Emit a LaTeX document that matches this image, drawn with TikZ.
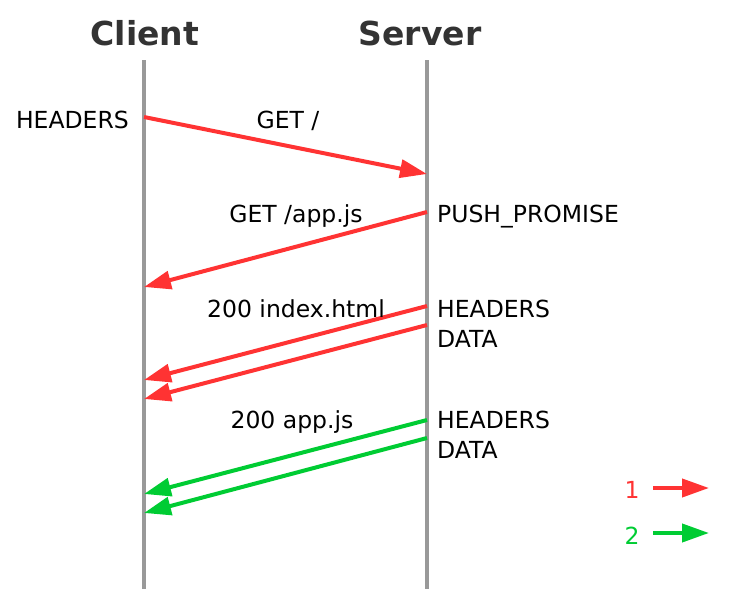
\documentclass[tikz,border=0pt]{standalone}
\usepackage{fontspec}
\setmainfont{DejaVu Sans}
\usetikzlibrary{arrows.meta}
\definecolor{msgred}{HTML}{FF3333}
\definecolor{msggreen}{HTML}{00CC33}
\definecolor{lifegray}{HTML}{999999}
\definecolor{titlegray}{HTML}{333333}
\begin{document}
\begin{tikzpicture}[x=1pt,y=-1pt,
  lifeline/.style={draw=lifegray,line width=4pt},
  msg/.style={line width=4pt,-{Triangle[length=27pt,width=18pt]}},
  red msg/.style={msg,draw=msgred,fill=msgred},
  green msg/.style={msg,draw=msggreen,fill=msggreen},
  title/.style={font=\fontsize{33}{39}\selectfont\bfseries,text=titlegray,anchor=base,inner sep=0pt},
  lbl/.style={font=\fontsize{23.5}{28}\selectfont,inner sep=0pt}]
\useasboundingbox (0,0) rectangle (734,608);
% lifelines
\coordinate (ctop) at (144,60);
\coordinate (cbot) at (144,589);
\coordinate (stop) at (427,60);
\coordinate (sbot) at (427,589);
\draw[lifeline] (ctop) -- (cbot);
\draw[lifeline] (stop) -- (sbot);
% titles
\node[title] (client) at (145,45) {Client};
\node[title] (server) at (420,45) {Server};
% message endpoints
\coordinate (c1) at (144,117);
\coordinate (s1) at (427,174);
\coordinate (s2) at (427,212);
\coordinate (c2) at (144,287);
\coordinate (s3) at (427,306);
\coordinate (c3) at (144,380);
\coordinate (s4) at (427,325);
\coordinate (c4) at (144,399);
\coordinate (s5) at (427,420);
\coordinate (c5) at (144,494);
\coordinate (s6) at (427,438);
\coordinate (c6) at (144,513);
\draw[red msg] (c1) -- (s1);
\draw[red msg] (s2) -- (c2);
\draw[red msg] (s3) -- (c3);
\draw[red msg] (s4) -- (c4);
\draw[green msg] (s5) -- (c5);
\draw[green msg] (s6) -- (c6);
% labels
\node[lbl,anchor=base east] (hdr0) at (129,128) {HEADERS};
\node[lbl,anchor=base] (get) at (288,128) {GET /};
\node[lbl,anchor=base] (getapp) at (296,222) {GET /app.js};
\node[lbl,anchor=base west] (push) at (437,222) {PUSH\_PROMISE};
\node[lbl,anchor=base] (idx) at (296,317) {200 index.html};
\node[lbl,anchor=base west] (hdr1) at (437,317) {HEADERS};
\node[lbl,anchor=base west] (data1) at (437,347) {DATA};
\node[lbl,anchor=base] (appjs) at (292,428) {200 app.js};
\node[lbl,anchor=base west] (hdr2) at (437,428) {HEADERS};
\node[lbl,anchor=base west] (data2) at (437,458) {DATA};
% legend
\node[lbl,anchor=base,text=msgred] (leg1) at (632,498) {1};
\node[lbl,anchor=base,text=msggreen] (leg2) at (632,544) {2};
\coordinate (l1a) at (653,488);
\coordinate (l1b) at (709,488);
\coordinate (l2a) at (653,533);
\coordinate (l2b) at (709,533);
\draw[red msg] (l1a) -- (l1b);
\draw[green msg] (l2a) -- (l2b);
\end{tikzpicture}
\end{document}
